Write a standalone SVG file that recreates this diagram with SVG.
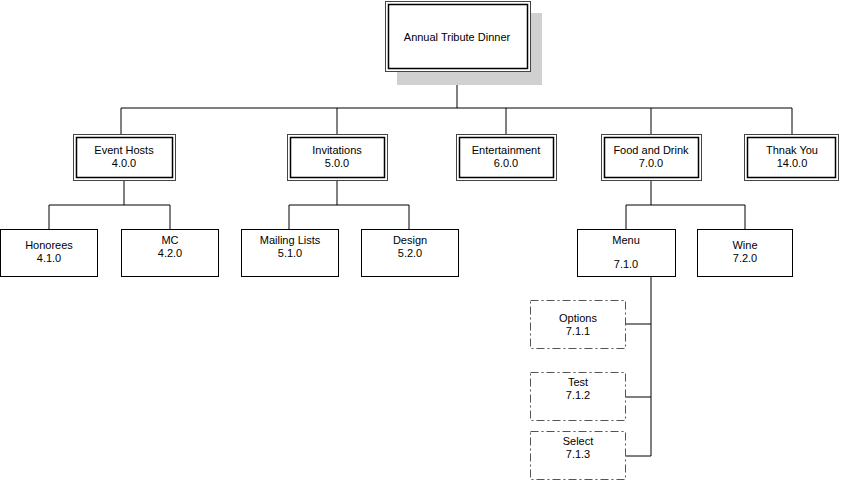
<svg xmlns="http://www.w3.org/2000/svg" width="842" height="482" viewBox="0 0 842 482">
<style>
text{font-family:"Liberation Sans",Arial,sans-serif;font-size:11px;fill:#000;text-anchor:middle}
.o{fill:#fff;stroke:#444;stroke-width:1}
.i{fill:none;stroke:#000;stroke-width:1.5}
.b{fill:#fff;stroke:#000;stroke-width:1}
.d{fill:#fff;stroke:#555;stroke-width:1;stroke-dasharray:8,3,2,3}
.c{fill:none;stroke:#000;stroke-width:1}
</style>
<rect width="842" height="482" fill="#fff"/>
<g id="connectors">
<path class="c" d="M457 71V108M121 108H792M121 108V134M337 108V134M506 108V134M651 108V134M792 108V134"/>
<path class="c" d="M124 180V205M49 205H170M49 205V229M170 205V229"/>
<path class="c" d="M337 180V205M289 205H409M289 205V229M409 205V229"/>
<path class="c" d="M651 180V205M626 205H745M626 205V229M745 205V229"/>
<path class="c" d="M651 276V456M626 324H651M626 397H651M626 456H651"/>
</g>
<g id="root">
<rect x="397" y="13" width="145" height="72" fill="#d0d0d0"/>
<rect class="o" x="385.5" y="1.5" width="145" height="70"/>
<rect class="i" x="388.5" y="4.5" width="139" height="64"/>
<text x="457" y="41">Annual Tribute Dinner</text>
</g>
<g id="n4"><rect class="o" x="73.5" y="134.5" width="102" height="46"/><rect class="i" x="76.5" y="137.5" width="96" height="40"/><text x="124" y="154">Event Hosts</text><text x="124" y="167">4.0.0</text></g>
<g id="n5"><rect class="o" x="287.5" y="134.5" width="100" height="46"/><rect class="i" x="290.5" y="137.5" width="94" height="40"/><text x="337" y="154">Invitations</text><text x="337" y="167">5.0.0</text></g>
<g id="n6"><rect class="o" x="456.5" y="134.5" width="100" height="46"/><rect class="i" x="459.5" y="137.5" width="94" height="40"/><text x="506" y="154">Entertainment</text><text x="506" y="167">6.0.0</text></g>
<g id="n7"><rect class="o" x="601.5" y="134.5" width="100" height="46"/><rect class="i" x="604.5" y="137.5" width="94" height="40"/><text x="651" y="154">Food and Drink</text><text x="651" y="167">7.0.0</text></g>
<g id="n14"><rect class="o" x="744.5" y="134.5" width="94" height="46"/><rect class="i" x="747.5" y="137.5" width="88" height="40"/><text x="792" y="154">Thnak You</text><text x="792" y="167">14.0.0</text></g>
<g id="n41"><rect class="b" x="0.5" y="229.5" width="97" height="47"/><text x="49" y="249">Honorees</text><text x="49" y="262">4.1.0</text></g>
<g id="n42"><rect class="b" x="121.5" y="229.5" width="97" height="47"/><text x="170" y="244">MC</text><text x="170" y="257">4.2.0</text></g>
<g id="n51"><rect class="b" x="241.5" y="229.5" width="97" height="47"/><text x="290" y="244">Mailing Lists</text><text x="290" y="257">5.1.0</text></g>
<g id="n52"><rect class="b" x="361.5" y="229.5" width="97" height="47"/><text x="410" y="244">Design</text><text x="410" y="257">5.2.0</text></g>
<g id="n71"><rect class="b" x="577.5" y="229.5" width="98" height="47"/><text x="626" y="244">Menu</text><text x="626" y="268">7.1.0</text></g>
<g id="n72"><rect class="b" x="697.5" y="229.5" width="95" height="47"/><text x="745" y="249">Wine</text><text x="745" y="262">7.2.0</text></g>
<g id="n711"><rect class="d" x="530.5" y="300.5" width="95" height="48"/><text x="578" y="322">Options</text><text x="578" y="335">7.1.1</text></g>
<g id="n712"><rect class="d" x="530.5" y="372.5" width="95" height="48"/><text x="578" y="386">Test</text><text x="578" y="399">7.1.2</text></g>
<g id="n713"><rect class="d" x="530.5" y="431.5" width="95" height="48"/><text x="578" y="445">Select</text><text x="578" y="458">7.1.3</text></g>
</svg>
